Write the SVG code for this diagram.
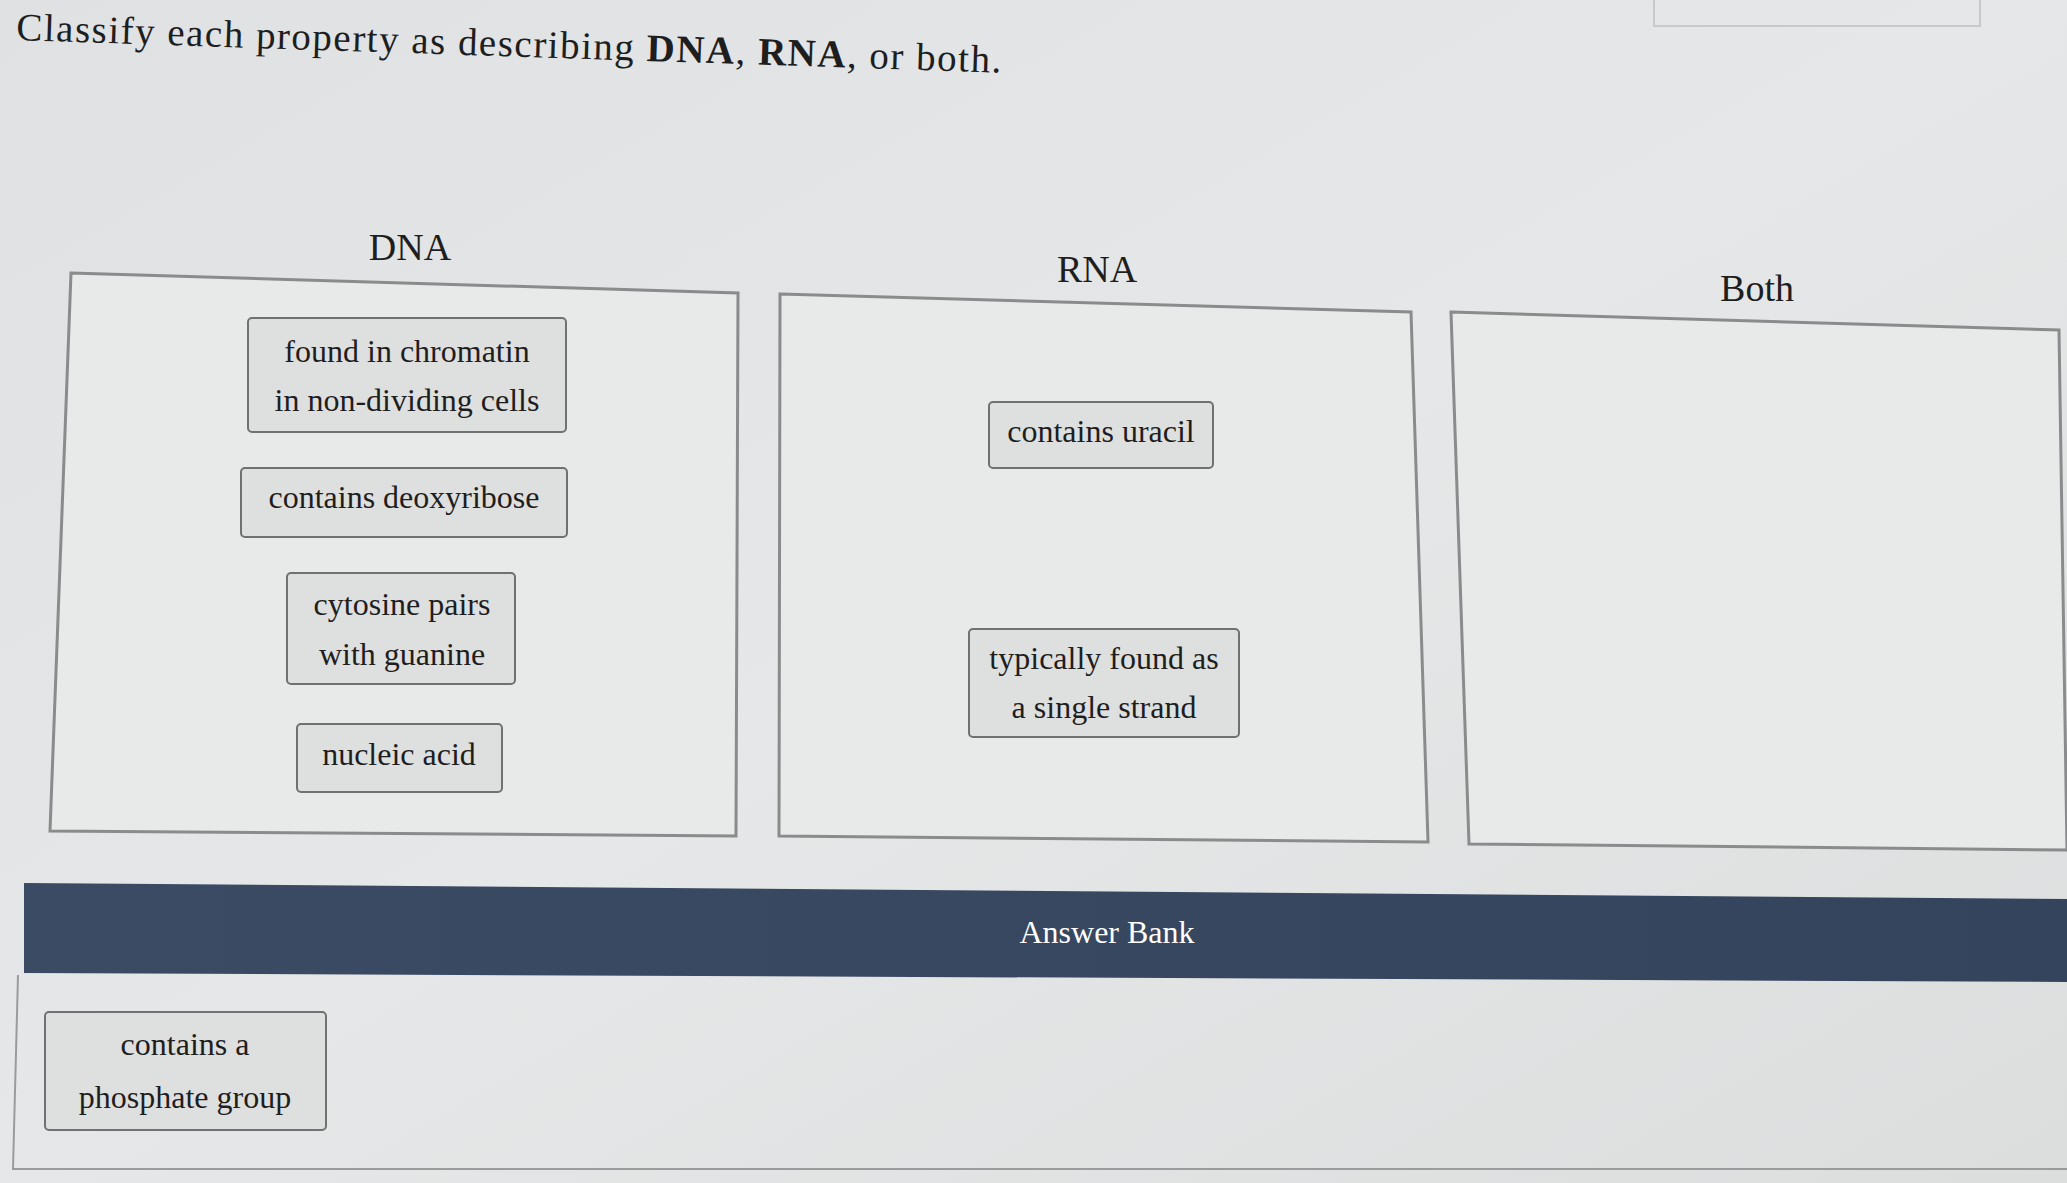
<svg xmlns="http://www.w3.org/2000/svg" width="2067" height="1183" viewBox="0 0 2067 1183">
<defs>
<linearGradient id="bg" x1="0" y1="0" x2="1" y2="1">
<stop offset="0" stop-color="#dfe1e3"/><stop offset="0.5" stop-color="#e6e7e8"/><stop offset="1" stop-color="#dcdddd"/>
</linearGradient>
<linearGradient id="bar" x1="0" y1="0" x2="1" y2="0">
<stop offset="0" stop-color="#3b4b64"/><stop offset="1" stop-color="#34445c"/>
</linearGradient>
</defs>
<style>
.t{font-family:"Liberation Serif",serif;fill:#1e1e1e}
.h{font-size:38px;text-anchor:middle}
.c{font-size:32px;text-anchor:middle}
.box{fill:#e8e9e9;stroke:#8a8b8c;stroke-width:3}
.chip{fill:#dedfdf;stroke:#707172;stroke-width:2}
</style>
<rect width="2067" height="1183" fill="url(#bg)"/>
<rect x="1654" y="-4" width="326" height="30" fill="none" stroke="#c8c9ca" stroke-width="2"/>
<text class="t" x="16" y="40" font-size="39" letter-spacing="1.5" transform="rotate(1.9 16 40)">Classify each property as describing <tspan font-weight="bold">DNA</tspan>, <tspan font-weight="bold">RNA</tspan>, or both.</text>

<g id="dna">
<polygon class="box" points="71,273 738,293 736,836 50,831"/>
<text class="t h" x="410" y="260">DNA</text>
</g>
<g id="rna">
<polygon class="box" points="780,294 1411,312 1428,842 779,836"/>
<text class="t h" x="1097" y="282">RNA</text>
</g>
<g id="both">
<polygon class="box" points="1451,312 2059,330 2067,850 1469,844"/>
<text class="t h" x="1757" y="301">Both</text>
</g>

<g id="chip1"><rect class="chip" x="248" y="318" width="318" height="114" rx="4"/>
<text class="t c" x="407" y="362">found in chromatin</text><text class="t c" x="407" y="411">in non-dividing cells</text></g>
<g id="chip2"><rect class="chip" x="241" y="468" width="326" height="69" rx="4"/>
<text class="t c" x="404" y="508">contains deoxyribose</text></g>
<g id="chip3"><rect class="chip" x="287" y="573" width="228" height="111" rx="4"/>
<text class="t c" x="402" y="615">cytosine pairs</text><text class="t c" x="402" y="665">with guanine</text></g>
<g id="chip4"><rect class="chip" x="297" y="724" width="205" height="68" rx="4"/>
<text class="t c" x="399" y="765">nucleic acid</text></g>
<g id="chip5"><rect class="chip" x="989" y="402" width="224" height="66" rx="4"/>
<text class="t c" x="1101" y="442">contains uracil</text></g>
<g id="chip6"><rect class="chip" x="969" y="629" width="270" height="108" rx="4"/>
<text class="t c" x="1104" y="669">typically found as</text><text class="t c" x="1104" y="718">a single strand</text></g>

<g id="answerbank">
<polygon points="24,883 2067,899 2067,982 24,973" fill="url(#bar)"/>
<text x="1107" y="943" font-family="Liberation Serif,serif" font-size="32" fill="#ffffff" text-anchor="middle">Answer Bank</text>
<polyline points="18,975 13,1169 2067,1169" fill="none" stroke="#9a9b9c" stroke-width="2"/>
</g>
<g id="chip7"><rect class="chip" x="45" y="1012" width="281" height="118" rx="4"/>
<text class="t c" x="185" y="1055">contains a</text><text class="t c" x="185" y="1108">phosphate group</text></g>
<g id="connectors"/>
</svg>
